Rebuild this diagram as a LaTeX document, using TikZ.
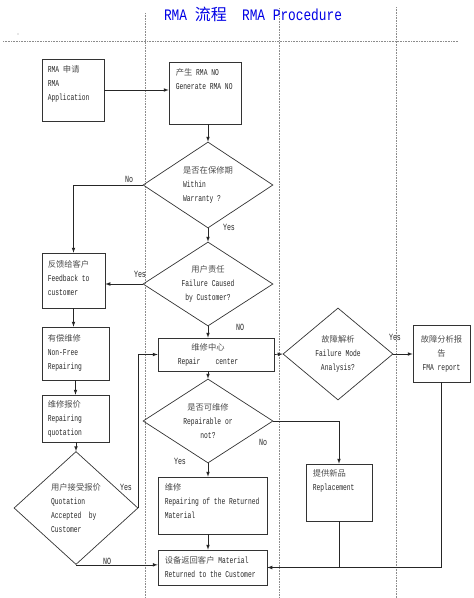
\documentclass[tikz,border=0pt]{standalone}
\usepackage{fontspec}
\setmainfont{Liberation Mono}[FakeStretch=0.7]
\newfontfamily\cjk{Noto Sans CJK SC}[Scale=0.92]
\newfontfamily\titlefont{Liberation Mono}[FakeStretch=0.8]
\newfontfamily\titlecjk{Noto Sans CJK SC}
\usetikzlibrary{shapes.geometric,positioning}
\newcommand*{\zh}[1]{{\cjk\color{black!70}#1}}
\newcommand*{\lw}{0.7pt}
\tikzset{
	box/.style n args={2}{
		rectangle,
		minimum width=#1pt,
		minimum height=#2pt,
		draw=black!80,
		line width=\lw,
		inner sep=0pt
	},
	decision/.style n args={3}{
		diamond,
		minimum width=#1pt,
		minimum height=#2pt,
		aspect=#3,
		draw=black!80,
		line width=\lw,
		inner sep=0pt,
		align=left,
		text=black!85,
		font=\fontsize{9}{14}\selectfont
	},
	txt/.style={
		inner sep=0pt,
		align=left,
		text=black!85,
		font=\fontsize{9}{14}\selectfont
	},
	lbl/.style={
		inner sep=0pt,
		text=black!85,
		font=\fontsize{9.5}{10}\selectfont
	},
	lane/.style={densely dotted, draw=black!45, line width=0.6pt},
	arr/.style={-latex, draw=black!85, line width=\lw},
	link/.style={draw=black!85, line width=\lw}
	}

\begin{document}
\begin{tikzpicture}[x=1pt,y=-1pt]
	\useasboundingbox (0,0) rectangle (474,598);
	% swim lanes
	\draw[lane] (3,41) -- (458,41);
	\foreach \lx/\ly in {145/13,279/8,396/7} {
		\draw[lane] (\lx,\ly) -- (\lx,598);
	};
	\fill[black!40] (18,34) circle (0.6);
	% title
	\node (title) [text=blue!90!black, inner sep=0pt, font=\titlefont\fontsize{16}{18}\selectfont] at (253,14) {RMA {\titlecjk 流程}\ \ RMA Procedure};
	% boxes
	\node (app) [box={62}{62}] at (73,90) {};
	\node (appT) [txt, below right=6.5pt and 6pt of app.north west] {RMA \zh{申请}\\RMA\\Application};
	\node (gen) [box={72}{62}] at (205,93) {};
	\node (genT) [txt, below right=6.5pt and 7pt of gen.north west] {\zh{产生} RMA NO\\Generate RMA NO};
	\node (fb) [box={63}{55}] at (73.5,280.5) {};
	\node (fbT) [txt, below right=8pt and 6pt of fb.north west] {\zh{反馈给客户}\\Feedback to\\customer};
	\node (nf) [box={67}{53}] at (75.5,353.5) {};
	\node (nfT) [txt, below right=8pt and 6pt of nf.north west] {\zh{有偿维修}\\Non-Free\\Repairing};
	\node (quo) [box={67}{47}] at (75.5,418.5) {};
	\node (quoT) [txt, below right=5.5pt and 6pt of quo.north west] {\zh{维修报价}\\Repairing\\quotation};
	\node (rc) [box={116}{33}] at (216,354.5) {};
	\node (fmr) [box={57}{57}] at (441.5,353.5) {};
	\node (fmrT) [txt, align=center] at (fmr) {\zh{故障分析报}\\\zh{告}\\FMA report};
	\node (rpl) [box={66}{57}] at (339,492.5) {};
	\node (rplT) [txt, below right=5.5pt and 7pt of rpl.north west] {\zh{提供新品}\\Replacement};
	\node (rep) [box={109}{57}] at (212.5,505.5) {};
	\node (repT) [txt, below right=6.5pt and 7pt of rep.north west] {\zh{维修}\\Repairing of the Returned\\Material};
	\node (ret) [box={109}{35}] at (212.5,567.5) {};
	\node (retT) [txt, below right=6.5pt and 7pt of ret.north west] {\zh{设备返回客户} Material\\Returned to the Customer};
	% decisions
	\node (warr) [decision={130}{86}{1.5}] at (208,185) {\zh{是否在保修期}\\Within\\Warranty ?};
	\node (cust) [decision={130}{84}{1.5}, align=center] at (208,284) {\zh{用户责任}\\Failure Caused\\by Customer?};
	\node (fma) [decision={110}{92}{1.2}, align=center] at (338,354) {\zh{故障解析}\\Failure Mode\\Analysis?};
	\node (repbl) [decision={130}{84}{1.5}, align=center] at (208,421) {\zh{是否可维修}\\Repairable or\\not?};
	\node (acc) [decision={124}{113}{1.1}] at (76,508) {\zh{用户接受报价}\\Quotation\\Accepted\ \ by\\Customer};
	\node (rcT) [txt, align=center] at (rc -| repbl) {\zh{维修中心}\\Repair\ \ \ \ center};
	% connectors
	\draw[arr] (app.east) -- (app.east -| gen.west);
	\draw[arr] (gen.south -| warr.north) -- (warr.north);
	\draw[arr] (warr.west) -| (fb.north);
	\draw[arr] (warr.south) -- (cust.north);
	\draw[arr] (cust.west) -- (cust.west -| fb.east);
	\draw[arr] (cust.south) -- (cust.south |- rc.north);
	\draw[arr] (fb.south) -- (fb.south |- nf.north);
	\draw[arr] (nf.south) -- (nf.south |- quo.north);
	\draw[arr] (quo.south -| acc.north) -- (acc.north);
	\draw[arr] (acc.east) |- (rc.west);
	\draw[arr] (acc.south) -- (acc.south -| ret.west);
	\draw[arr] (rc.east) -- (fma.west);
	\draw[arr] (fma.east) -- (fma.east -| fmr.west);
	\draw[arr] (repbl.north |- rc.south) -- (repbl.north);
	\draw[arr] (repbl.east) -| (rpl.north);
	\draw[arr] (repbl.south) -- (repbl.south |- rep.north);
	\draw[arr] (repbl.south |- rep.south) -- (repbl.south |- ret.north);
	\draw[arr] (fmr.south) |- (ret.east);
	\draw[link] (rpl.south) -- (rpl.south |- ret.east);
	% branch labels
	\node (noWarr) [lbl] at (129,179) {No};
	\node (yesWarr) [lbl] at (229,227) {Yes};
	\node (yesCust) [lbl] at (140,274) {Yes};
	\node (noCust) [lbl] at (240,327) {NO};
	\node (yesFma) [lbl] at (395,337) {Yes};
	\node (noRepbl) [lbl] at (263,442) {No};
	\node (yesRepbl) [lbl] at (180,461) {Yes};
	\node (yesAcc) [lbl] at (126,487) {Yes};
	\node (noAcc) [lbl] at (107,561) {NO};
\end{tikzpicture}
\end{document}
